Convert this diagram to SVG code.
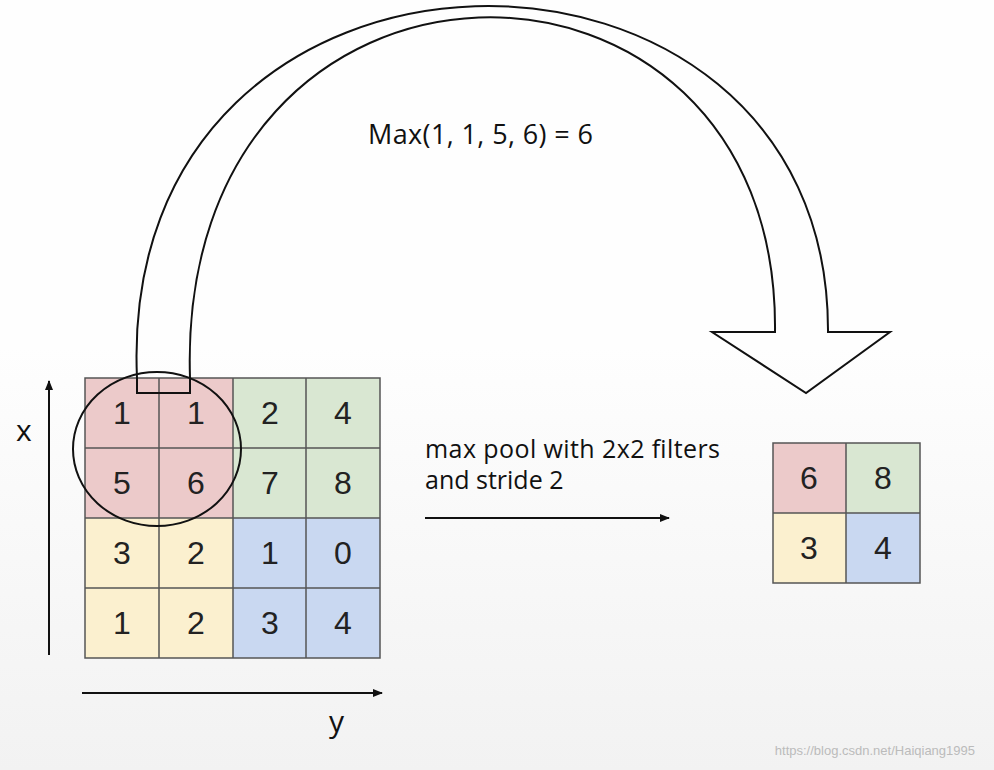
<svg xmlns="http://www.w3.org/2000/svg" width="994" height="770" viewBox="0 0 994 770">
<defs>
<style>
.c{stroke:#555;stroke-width:1.5}
.n{font-family:"Liberation Sans",Arial,sans-serif;font-size:32px;fill:#222;text-anchor:middle}
.t{font-family:"Open Sans","Liberation Sans",sans-serif;fill:#111}
.ln{fill:none;stroke:#111;stroke-width:2}
</style>
<linearGradient id="bg" x1="0" y1="0" x2="0" y2="1"><stop offset="0.45" stop-color="#fefefe"/><stop offset="1" stop-color="#f2f2f2"/></linearGradient>
<marker id="ah" markerWidth="10" markerHeight="8" refX="9" refY="4" orient="auto" markerUnits="userSpaceOnUse"><path d="M0,0 L10,4 L0,8 z" fill="#111"/></marker>
</defs>
<rect width="994" height="770" fill="url(#bg)"/>
<g id="grid">
<rect x="85" y="378" width="148" height="140" fill="#eccaca"/>
<rect x="233" y="378" width="147" height="140" fill="#d9e7d2"/>
<rect x="85" y="518" width="148" height="140" fill="#fbf0cf"/>
<rect x="233" y="518" width="147" height="140" fill="#c9d8f1"/>
<path class="c" fill="none" d="M85,378H380V658H85Z M159,378V658 M233,378V658 M306,378V658 M85,448H380 M85,518H380 M85,588H380"/>
<g class="n">
<text x="122" y="424">1</text><text x="196" y="424">1</text><text x="270" y="424">2</text><text x="343" y="424">4</text>
<text x="122" y="494">5</text><text x="196" y="494">6</text><text x="270" y="494">7</text><text x="343" y="494">8</text>
<text x="122" y="564">3</text><text x="196" y="564">2</text><text x="270" y="564">1</text><text x="343" y="564">0</text>
<text x="122" y="634">1</text><text x="196" y="634">2</text><text x="270" y="634">3</text><text x="343" y="634">4</text>
</g>
</g>
<g id="result">
<rect x="773" y="443" width="73" height="70" fill="#eccaca"/>
<rect x="846" y="443" width="74" height="70" fill="#d9e7d2"/>
<rect x="773" y="513" width="73" height="70" fill="#fbf0cf"/>
<rect x="846" y="513" width="74" height="70" fill="#c9d8f1"/>
<path class="c" fill="none" d="M773,443H920V583H773Z M846,443V583 M773,513H920"/>
<g class="n"><text x="809" y="489">6</text><text x="883" y="489">8</text><text x="809" y="559">3</text><text x="883" y="559">4</text></g>
</g>
<g id="window">
<ellipse cx="157" cy="449" rx="84" ry="77" class="ln"/>
</g>
<g id="bigArrow" class="ln">
<path d="M137,393 V378 C115,-110 830,-110 828,332 H890 L806,393 L712,332 H775 C780,-95 175,-95 190,378 V393 Z" fill="none"/>
</g>
<g id="connectors">
<line x1="49" y1="655" x2="49" y2="381" class="ln" marker-end="url(#ah)"/>
<line x1="82" y1="693" x2="382" y2="693" class="ln" marker-end="url(#ah)"/>
<line x1="425" y1="518" x2="669" y2="518" class="ln" marker-end="url(#ah)"/>
</g>
<g id="labels">
<text class="t" x="368" y="144" font-size="27" textLength="225">Max(1, 1, 5, 6) = 6</text>
<text class="t" x="425" y="458" font-size="25" textLength="295">max pool with 2x2 filters</text>
<text class="t" x="425" y="489" font-size="25">and stride 2</text>
<text class="t" x="16" y="441" font-size="30">x</text>
<text class="t" x="329" y="732" font-size="30">y</text>
<text x="975" y="755" font-family="Liberation Sans,sans-serif" font-size="13" fill="#bbb" text-anchor="end">https://blog.csdn.net/Haiqiang1995</text>
</g>
</svg>
